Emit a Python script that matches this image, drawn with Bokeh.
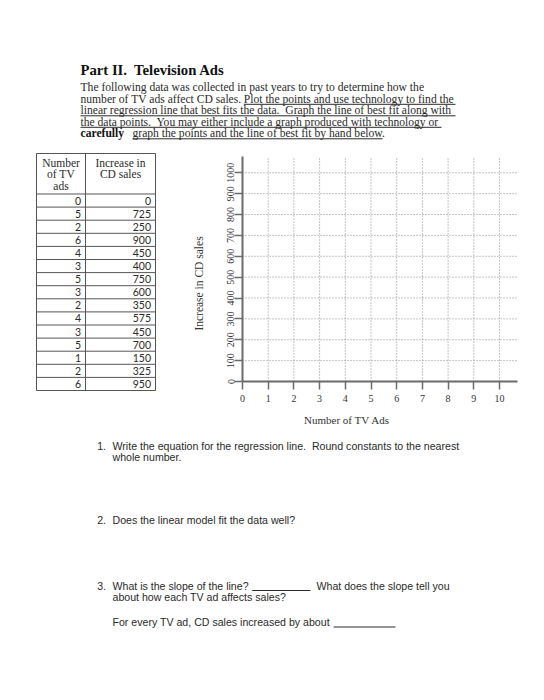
import math
from bokeh.plotting import figure
from bokeh.models import ColumnDataSource, Range1d, FixedTicker, LinearAxis
from bokeh.embed import file_html
from bokeh.resources import INLINE
from bokeh.core.properties import value

# ---------------- data ----------------
tv_ads = [0, 5, 2, 6, 4, 3, 5, 3, 2, 4, 3, 5, 1, 2, 6]
cd_sales = [0, 725, 250, 900, 450, 400, 750, 600, 350, 575, 450, 700, 150, 325, 950]
x_ticks = list(range(0, 11))
y_ticks = list(range(0, 1001, 100))
x_title = "Number of TV Ads"
y_title = "Increase in CD sales"
head_col1 = ["Number", "of TV", "ads"]
head_col2 = ["Increase in", "CD sales"]

title = "Part II.\u00a0 Television Ads"
para = [
    "The following data was collected in past years to try to determine how the",
    "number of TV ads affect CD sales.",
    "Plot the points and use technology to find the",
    "linear regression line that best fits the data.\u00a0 Graph the line of best fit along with",
    "the data points.\u00a0 You may either include a graph produced with technology or",
    "carefully",
    "graph the points and the line of best fit by hand below.",
]
questions = [
    "1.", "Write the equation for the regression line.\u00a0 Round constants to the nearest",
    "whole number.",
    "2.", "Does the linear model fit the data well?",
    "3.", "What is the slope of the line?", "What does the slope tell you",
    "about how each TV ad affects sales?",
    "For every TV ad, CD sales increased by about",
]

SERIF = "Liberation Serif"
SANS = "Liberation Sans"
NUMF = "Lato"
INK = "#2a2a2a"

# ---------------- page geometry (pixels) ----------------
W, H = 544, 700
PX_L, PX_B = 34, 50          # frame covers x 34..544, y 0..650 of the page
X0_PX, X_PX = 242.0, 25.7     # chart: pixel of x=0, pixels per unit
Y0_PX, Y_PX = 381.0, 0.20872  # chart: pixel of y=0, pixels per unit
X_END, Y_END = 10.7, 1078.0   # extent of chart axes / grid

p = figure(width=W, height=H, x_range=Range1d(PX_L, W), y_range=Range1d(PX_B, H),
           x_axis_type=None, y_axis_type=None, toolbar_location=None, output_backend="svg",
           min_border_left=PX_L, min_border_right=0, min_border_top=0, min_border_bottom=PX_B,
           outline_line_color=None, title=None)
p.extra_x_ranges = {"cx": Range1d((PX_L - X0_PX) / X_PX, (W - X0_PX) / X_PX)}
p.extra_y_ranges = {"cy": Range1d((Y0_PX - (H - PX_B)) / Y_PX, Y0_PX / Y_PX)}


def txt(x, y, s, font, size, color=INK, style="normal", align="left", angle=0.0):
    p.text(x=[x], y=[H - y], text=[s], text_font=value(font), text_font_size=f"{size}px",
           text_color=color, text_font_style=style, text_align=align,
           text_baseline="middle", angle=angle)


def seg(x0, y0, x1, y1, color=INK, w=1.0):
    p.segment(x0=[x0], y0=[H - y0], x1=[x1], y1=[H - y1], line_color=color, line_width=w)


# ---------------- heading and paragraph ----------------
txt(80, 69.3, title, SERIF, 14.7, color="#111", style="bold")
PS = 11.6
ly = [87.3, 98.8, 110.3, 121.8, 133.3]
txt(80, ly[0], para[0], SERIF, PS)
txt(80, ly[1], para[1], SERIF, PS)
txt(243.3, ly[1], para[2], SERIF, PS)
txt(80, ly[2], para[3], SERIF, PS)
txt(80, ly[3], para[4], SERIF, PS)
txt(80, ly[4], para[5], SERIF, PS, color="#111", style="bold")
txt(132, ly[4], para[6], SERIF, PS)
seg(243.3, ly[1] + 5, 455, ly[1] + 5)
seg(80, ly[2] + 5, 455, ly[2] + 5)
seg(80, ly[3] + 5, 441, ly[3] + 5)
seg(132, ly[4] + 5, 382, ly[4] + 5)

# ---------------- table ----------------
T_L, T_M, T_R = 36, 85, 155
T_TOP, T_HEAD, PITCH = 153, 193.5, 13.1
n = len(tv_ads)
T_BOT = T_HEAD + n * PITCH
LC = "#555555"
for xv in (T_L, T_M, T_R):
    seg(xv, T_TOP, xv, T_BOT, LC)
seg(T_L, T_TOP, T_R, T_TOP, LC)
for i in range(n + 1):
    seg(T_L, T_HEAD + i * PITCH, T_R, T_HEAD + i * PITCH, LC)
for j, s in enumerate(head_col1):
    txt((T_L + T_M) / 2, 162 + j * 11.8, s, SERIF, 11.5, align="center")
for j, s in enumerate(head_col2):
    txt((T_M + T_R) / 2, 162 + j * 11.8, s, SERIF, 11.5, align="center")
rows_y = [H - (T_HEAD + (i + 0.5) * PITCH) for i in range(n)]
src = ColumnDataSource(dict(
    xa=[80.5] * n, xb=[150.5] * n, y=rows_y,
    a=[str(v) for v in tv_ads], b=[str(v) for v in cd_sales]))
p.text(x="xa", y="y", text="a", source=src, text_font=value(NUMF), text_font_size="10.5px",
       text_color=INK, text_align="right", text_baseline="middle")
p.text(x="xb", y="y", text="b", source=src, text_font=value(NUMF), text_font_size="10.5px",
       text_color=INK, text_align="right", text_baseline="middle")

# ---------------- chart: grid, axes, titles ----------------
GC = "#8a8a8a"
gx = x_ticks[1:]
gy = y_ticks[1:]
p.segment(x0=gx, y0=[0] * len(gx), x1=gx, y1=[Y_END] * len(gx),
          x_range_name="cx", y_range_name="cy", line_color=GC, line_width=1, line_dash="1 2")
p.segment(x0=[0] * len(gy), y0=gy, x1=[X_END] * len(gy), y1=gy,
          x_range_name="cx", y_range_name="cy", line_color=GC, line_width=1, line_dash="1 2")

AX = "#6b6b6b"


def style_axis(ax):
    ax.axis_line_color = AX
    ax.axis_line_width = 2
    ax.major_tick_line_color = AX
    ax.major_tick_line_width = 1.5
    ax.major_tick_out = 8
    ax.major_tick_in = 0
    ax.minor_tick_line_color = None
    ax.major_label_text_font = SERIF
    ax.major_label_text_font_size = "10px"
    ax.major_label_text_color = "#333333"


xa = LinearAxis(x_range_name="cx", y_range_name="cy", fixed_location=0, bounds=(0, X_END),
                ticker=FixedTicker(ticks=x_ticks), major_label_standoff=5)
style_axis(xa)
p.add_layout(xa, "below")
ya = LinearAxis(x_range_name="cx", y_range_name="cy", fixed_location=0, bounds=(0, Y_END),
                ticker=FixedTicker(ticks=y_ticks), major_label_standoff=0,
                major_label_orientation="vertical")
style_axis(ya)
p.add_layout(ya, "left")

txt(346.5, 419.3, x_title, SERIF, 11, color="#333333", align="center")
txt(198.3, 283, y_title, SERIF, 11.5, color="#333333", align="center", angle=math.pi / 2)

# ---------------- questions ----------------
QS = 10.6
txt(96.7, 445.3, questions[0], SANS, QS)
txt(112, 445.3, questions[1], SANS, QS)
txt(112, 456, questions[2], SANS, QS)
txt(96.7, 519, questions[3], SANS, QS)
txt(112, 519, questions[4], SANS, QS)
txt(96.7, 585, questions[5], SANS, QS)
txt(112, 585, questions[6], SANS, QS)
seg(251.7, 590, 310, 590)
txt(316, 585, questions[7], SANS, QS)
txt(112, 596.5, questions[8], SANS, QS)
txt(112, 621.7, questions[9], SANS, QS)
seg(333, 626.5, 395, 626.5)

open("out.html", "w").write(file_html(p, INLINE))
